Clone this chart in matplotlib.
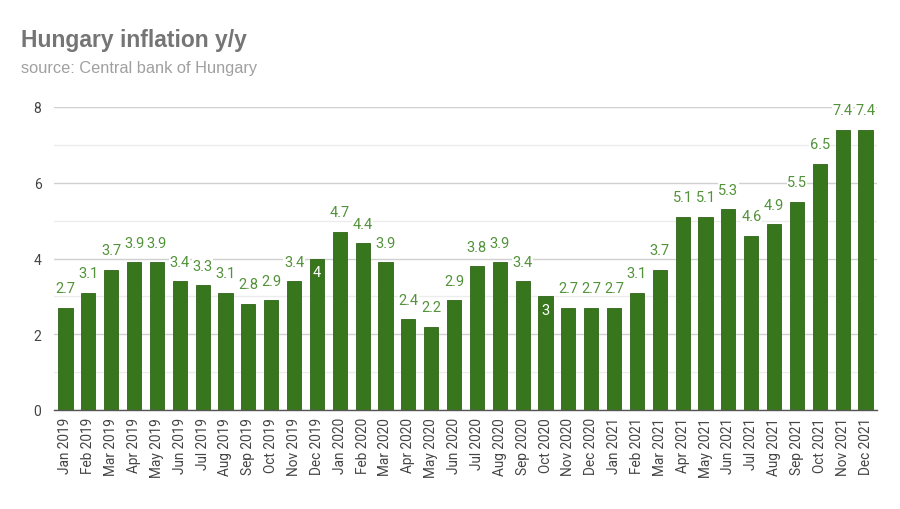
import matplotlib
matplotlib.use("Agg")
import matplotlib.pyplot as plt
import numpy as np

plt.rcParams['font.family'] = ['Roboto', 'DejaVu Sans']

months = ["Jan", "Feb", "Mar", "Apr", "May", "Jun", "Jul", "Aug", "Sep", "Oct", "Nov", "Dec"]
years = [2019, 2020, 2021]
categories = [f"{m} {y}" for y in years for m in months]
values = [2.7, 3.1, 3.7, 3.9, 3.9, 3.4, 3.3, 3.1, 2.8, 2.9, 3.4, 4,
          4.7, 4.4, 3.9, 2.4, 2.2, 2.9, 3.8, 3.9, 3.4, 3, 2.7, 2.7,
          2.7, 3.1, 3.7, 5.1, 5.1, 5.3, 4.6, 4.9, 5.5, 6.5, 7.4, 7.4]
inside_labels = ["Dec 2019", "Oct 2020"]

bar_color = "#38761d"
label_color = "#52923a"

fig = plt.figure(figsize=(9, 5.1), dpi=100)
ax = fig.add_axes([54/900, 1 - 411/510, 823/900, 303/510])

x = np.arange(len(categories))
ax.bar(x, values, width=0.62, color=bar_color, edgecolor="#2f6418", linewidth=0.6, zorder=3)

ax.set_xlim(-0.5, len(categories) - 0.5)
ax.set_ylim(0, 8)
ax.set_yticks([0, 2, 4, 6, 8])
ax.set_yticklabels(["0", "2", "4", "6", "8"])
ax.set_yticks([1, 3, 5, 7], minor=True)
ax.grid(axis="y", which="major", color="#d0d0d0", linewidth=1.0, zorder=0)
ax.grid(axis="y", which="minor", color="#ececec", linewidth=1.0, zorder=0)
ax.tick_params(axis="y", which="both", length=0, pad=9, labelsize=10, labelcolor="#444444")
ax.set_xticks(x)
ax.set_xticklabels(categories, rotation=90, fontsize=9.8, color="#444444")
ax.tick_params(axis="x", length=0, pad=5)
for s in ["top", "right", "left"]:
    ax.spines[s].set_visible(False)
ax.spines["bottom"].set_color("#555555")
ax.spines["bottom"].set_linewidth(1.0)
ax.spines["bottom"].set_zorder(4)

def fmt(v):
    return f"{v:g}"

for xi, v, c in zip(x, values, categories):
    if c in inside_labels:
        ax.annotate(fmt(v), (xi, v), xytext=(0, -5), textcoords="offset points",
                    ha="center", va="top", fontsize=10.5, color="white", zorder=5)
    else:
        ax.annotate(fmt(v), (xi, v), xytext=(0, 9), textcoords="offset points",
                    ha="center", va="bottom", fontsize=10.5, color=label_color, zorder=5,
                    bbox=dict(facecolor="white", edgecolor="none", pad=0.3))

fig.text(21/900, 1 - 41/510, "Hungary inflation y/y", fontsize=16.5, fontweight="bold",
         family=["Liberation Sans", "DejaVu Sans"], color="#757575", va="center", ha="left")
fig.text(21/900, 1 - 69/510, "source: Central bank of Hungary", fontsize=11.8,
         family=["Liberation Sans", "DejaVu Sans"], color="#a0a0a0", va="center", ha="left")

fig.savefig("out.png", dpi=100, facecolor="white")
